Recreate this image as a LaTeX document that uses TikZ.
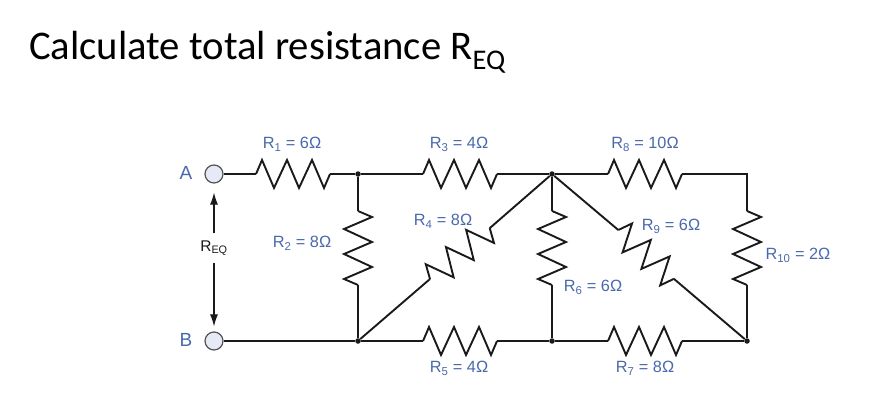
\documentclass[tikz,border=0pt]{standalone}
\usepackage{fontspec}
\setmainfont{Liberation Sans}
\newfontfamily\titlefont{Carlito}
\usetikzlibrary{arrows.meta}
\definecolor{wirecol}{HTML}{1A1A1A}
\definecolor{labelcol}{HTML}{4A69AD}
\definecolor{termfill}{HTML}{E6EAF6}
\newcommand{\lbl}[2]{R\textsubscript{#1} = #2Ω}
\tikzset{
  wire/.style={draw=wirecol,line width=1.9pt,line join=miter},
  term/.style={circle,draw=wirecol!75,line width=1.2pt,fill=termfill,minimum size=18pt,inner sep=0pt},
  dotnode/.style={circle,fill=wirecol,minimum size=5.5pt,inner sep=0pt},
  val/.style={text=labelcol,font=\fontsize{16.3}{18}\selectfont,inner sep=0pt},
  letter/.style={text=labelcol,font=\fontsize{19}{21}\selectfont,inner sep=0pt},
  res/.pic={
    \coordinate (-a) at (0,0);
    \coordinate (-b) at (74,0);
    \draw[wire] (0,0) -- (6,-14) -- (18,14) -- (31,-14) -- (43,14) -- (56,-14) -- (68,14) -- (74,0);
  }
}
\begin{document}
\begin{tikzpicture}[x=1pt,y=-1pt]
\useasboundingbox (0,0) rectangle (880,409);
\node[anchor=west,inner sep=0pt,font=\fontsize{40.7}{44}\selectfont\titlefont] (title) at (29,52.5) {Calculate total resistance R\textsubscript{EQ}};
% terminals and junctions
\node[term] (A) at (214,174) {};
\node[term] (B) at (214,341) {};
\node[dotnode] (j1) at (358,174) {};
\node[dotnode] (j2) at (358,341) {};
\node[dotnode] (j3) at (552,174) {};
\node[dotnode] (j4) at (552,341) {};
\coordinate (c1) at (747,174);
\node[dotnode] (j5) at (747,341) {};
% resistors
\pic (r1) at (256,174) {res};
\pic (r3) at (423,174) {res};
\pic (r8) at (608,174) {res};
\pic (r5) at (423,341) {res};
\pic (r7) at (608,341) {res};
\pic[rotate=-90] (r2) at (358,211) {res};
\pic[rotate=-90] (r6) at (552,211) {res};
\pic[rotate=-90] (r10) at (747,211) {res};
\pic[rotate=40.4,xscale=1.06] (r4) at (430,279) {res};
\pic[rotate=-41.3] (r9) at (618.3,230) {res};
% wires
\draw[wire] (A) -- (r1-a);
\draw[wire] (r1-b) -- (j1) -- (r3-a);
\draw[wire] (r3-b) -- (j3) -- (r8-a);
\draw[wire] (r8-b) -- (c1) -- (r10-a);
\draw[wire] (r10-b) -- (j5);
\draw[wire] (j1) -- (r2-a);
\draw[wire] (r2-b) -- (j2);
\draw[wire] (B) -- (j2) -- (r5-a);
\draw[wire] (r5-b) -- (j4) -- (r7-a);
\draw[wire] (r7-b) -- (j5);
\draw[wire] (j3) -- (r6-a);
\draw[wire] (r6-b) -- (j4);
\draw[wire] (j2) -- (r4-a);
\draw[wire] (r4-b) -- (j3);
\draw[wire] (j3) -- (r9-a);
\draw[wire] (r9-b) -- (j5);
% REQ arrows
\node[inner sep=0pt,minimum height=29pt,text=wirecol,font=\fontsize{15.5}{18}\selectfont] (req) at (214,248) {\raisebox{-2pt}{R\textsubscript{EQ}}};
\draw[draw=wirecol,line width=1.1pt,-{Latex[length=12pt,width=8pt]},shorten >=9pt] (req.north) -- (A.south);
\draw[draw=wirecol,line width=1.1pt,-{Latex[length=12pt,width=8pt]},shorten >=5pt] (req.south) -- (B.north);
% labels
\node[letter] (la) at (186,173) {A};
\node[letter] (lb) at (186,340) {B};
\node[val] (l1) at (292,144.5) {\lbl{1}{6}};
\node[val] (l3) at (459,144.5) {\lbl{3}{4}};
\node[val] (l8) at (645,144.5) {\lbl{8}{10}};
\node[val] (l2) at (302,243.5) {\lbl{2}{8}};
\node[val] (l4) at (443,221.5) {\lbl{4}{8}};
\node[val] (l9) at (671,226.5) {\lbl{9}{6}};
\node[val] (l10) at (798,255.5) {\lbl{10}{2}};
\node[val] (l6) at (593,287.5) {\lbl{6}{6}};
\node[val] (l5) at (459,368.5) {\lbl{5}{4}};
\node[val] (l7) at (645,368.5) {\lbl{7}{8}};
\end{tikzpicture}
\end{document}
